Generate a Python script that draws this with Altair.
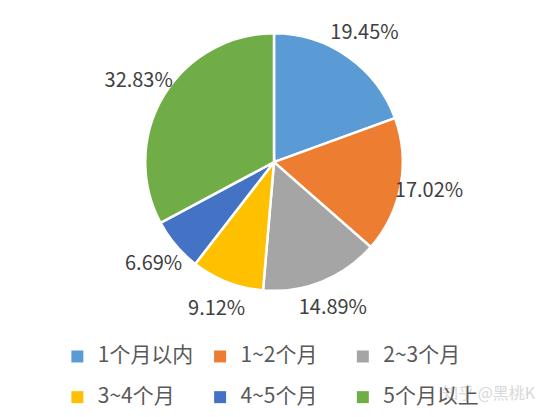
import altair as alt
import pandas as pd

categories = ["1个月以内", "1~2个月", "2~3个月", "3~4个月", "4~5个月", "5个月以上"]
values = [19.45, 17.02, 14.89, 9.12, 6.69, 32.83]
colors = ["#5B9BD5", "#ED7D31", "#A5A5A5", "#FFC000", "#4472C4", "#70AD47"]

df = pd.DataFrame({
    "cat": categories,
    "val": values,
    "idx": list(range(len(categories))),
    "label": [f"{v:.2f}%" for v in values],
})

FONT = "Noto Sans CJK SC"

base = alt.Chart(df).encode(
    theta=alt.Theta("val:Q", stack=True),
    order=alt.Order("idx:Q"),
)

pie = base.mark_arc(outerRadius=129, stroke="white", strokeWidth=2.5).encode(
    color=alt.Color(
        "cat:N",
        sort=categories,
        scale=alt.Scale(domain=categories, range=colors),
        legend=alt.Legend(
            title=None,
            orient="none",
            legendX=54,
            legendY=333,
            direction="horizontal",
            columns=3,
            gridAlign="all",
            symbolType="square",
            symbolSize=144,
            symbolStrokeWidth=0,
            labelFont=FONT,
            labelFontSize=21,
            labelColor="#595959",
            columnPadding=16,
            rowPadding=19,
            labelOffset=10,
        ),
    )
)

text = base.mark_text(radius=158, font=FONT, fontSize=20, color="#404040").encode(
    text="label:N"
)

wm = alt.Chart(pd.DataFrame({"t": ["知乎 @黑桃K"]})).mark_text(
    font=FONT, fontSize=16, color="#d8d8d8", align="right"
).encode(x=alt.value(523), y=alt.value(381), text="t:N")

chart = alt.layer(pie, text, wm).properties(
    width=523, height=298
).configure_view(stroke=None)

chart.save("out.html", embed_options={"renderer": "svg", "actions": False})
